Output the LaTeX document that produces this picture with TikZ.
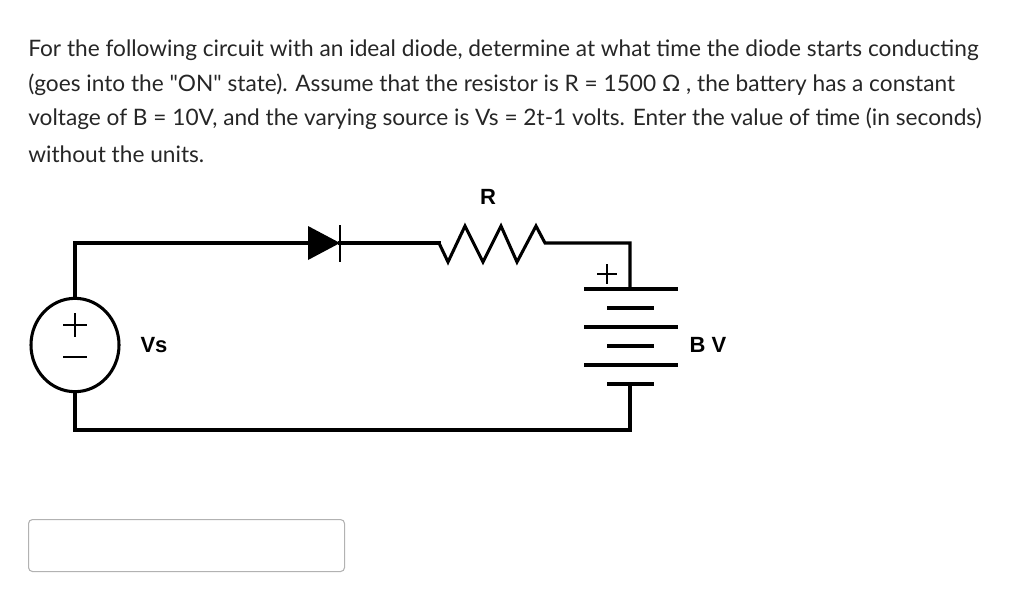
\documentclass[tikz,border=0pt]{standalone}
\usepackage{fontspec}
\setmainfont{Lato}
\setsansfont{Liberation Sans}
\usetikzlibrary{shapes.geometric}
\begin{document}
\begin{tikzpicture}[x=0.75pt,y=-0.75pt,
  wire/.style={line width=2.3pt,line cap=rect},
  lbl/.style={font=\sffamily\bfseries\fontsize{16.5}{18}\selectfont,inner sep=0pt},
  para/.style={anchor=west,inner sep=0pt,font=\fontsize{17}{20}\selectfont,text=black!85}]
\useasboundingbox (0,0) rectangle (1024,615);
\node[para] (l1) at (28,50) {For the following circuit with an ideal diode, determine at what time the diode starts conducting};
\node[para] (l2) at (28,85) {(goes into the \textquotedbl ON\textquotedbl{} state). Assume that the resistor is R = 1500 Ω , the battery has a constant};
\node[para] (l3) at (28,119) {voltage of B = 10V, and the varying source is Vs = 2t-1 volts. Enter the value of time (in seconds)};
\node[para] (l4) at (28,154) {without the units.};
% source
\node[draw,ellipse,line width=2.3pt,minimum width=66,minimum height=70,inner sep=0pt] (vs) at (75,345) {};
\draw[line width=1.6pt] (63,325)--(87,325) (75,313)--(75,337) (63,357)--(87,357);
\node[lbl] (vsl) at (154,345) {Vs};
% coordinates
\coordinate (tl) at (75,243);
\coordinate (bl) at (75,430);
\coordinate (da) at (308,243);
\coordinate (dk) at (340,243);
\coordinate (ra) at (439,243);
\coordinate (rb) at (545,243);
\coordinate (tr) at (630,243);
\coordinate (bt) at (630,289);
\coordinate (bb) at (630,384);
\coordinate (br) at (630,430);
\draw[wire] (vs.north)--(tl)--(da);
\fill (da)++(0,-17) -- ++(0,34) -- (dk) -- cycle;
\draw[line width=2.2pt] (340,225)--(340,262);
\draw[wire] (dk)--(ra);
\draw[wire,line cap=butt,line join=miter] (ra)--(448,262)--(465,226)--(483,262)--(501,226)--(517,262)--(536,226)--(rb)--(tr)--(bt);
\node[lbl] (rl) at (488,197) {R};
% battery
\foreach \y in {289,327,365} \draw[line width=2.3pt] (584,\y)--(678,\y);
\foreach \y in {308,346,384} \draw[line width=2.3pt] (607,\y)--(654,\y);
\draw[line width=1.3pt] (597,274)--(617,274) (607,264)--(607,284);
\node[lbl] (bvl) at (708,345) {B V};
\draw[wire] (bb)--(br)--(bl)--(vs.south);
% answer box
\node[draw=black!30,line width=0.8pt,rounded corners=3pt,minimum width=237,minimum height=39,anchor=north west] (box) at (28,519) {};
\end{tikzpicture}
\end{document}
